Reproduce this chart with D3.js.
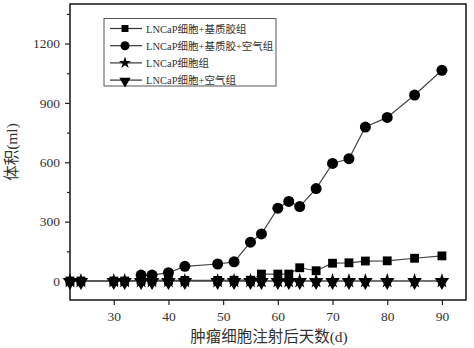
<!DOCTYPE html>
<html><head><meta charset="utf-8">
<script src="https://cdn.jsdelivr.net/npm/d3@7"></script>
<style>body{margin:0;background:#fff}</style>
</head><body>
<script>
const days = [22,24,30,32,35,37,40,43,49,52,55,57,60,62,64,67,70,73,76,80,85,90];
const seriesNames = ["LNCaP细胞+基质胶组","LNCaP细胞+基质胶+空气组","LNCaP细胞组","LNCaP细胞+空气组"];
const matrigel    = [0,0,0,0,4,4,3,3,3,4,4,35,35,35,67,52,90,92,101,102,115,127];
const matrigelAir = [null,null,null,null,30,30,42,74,86,97,196,238,368,402,376,467,594,618,778,827,940,1065];
const cellsOnly   = [0,0,0,0,0,0,0,0,0,0,0,0,0,0,0,0,0,0,0,0,0,0];
const cellsAir    = [0,0,0,0,0,0,0,0,0,0,0,0,0,0,0,0,0,0,0,0,0,0];
const yMajorTicks = [0,300,600,900,1200];
const yMinorTicks = [150,450,750,1050,1350];
const xTicks = [30,40,50,60,70,80,90];

const W=474,H=348;
const svg=d3.select("body").append("svg").attr("width",W).attr("height",H);
const L=70,R=466,T=4,B=300;
const x=d3.scaleLinear().domain([22,94.4]).range([L,R]);
const y=d3.scaleLinear().domain([-100,1400]).range([B+0.8,T]);
const serif='"Liberation Serif","Noto Sans CJK SC",serif';

// axes
const gx=svg.append("g").attr("transform",`translate(0,${B})`)
  .call(d3.axisBottom(x).tickValues(xTicks).tickSize(5).tickPadding(6).tickFormat(d3.format("d")));
const gy=svg.append("g").attr("transform",`translate(${L},0)`)
  .call(d3.axisLeft(y).tickValues(yMajorTicks).tickSize(5).tickPadding(5).tickFormat(d3.format("d")));
svg.append("g").attr("transform",`translate(${L},0)`)
  .call(d3.axisLeft(y).tickValues(yMinorTicks).tickSize(3).tickFormat(""))
  .call(g=>g.select(".domain").remove());
[gx,gy].forEach(g=>{
  g.select(".domain").remove();
  g.selectAll("text").attr("font-family",serif).attr("font-size",13.5).attr("fill","#333");
});
svg.selectAll("g line").attr("stroke","#222").attr("stroke-width",1.2);

svg.append("rect").attr("x",L).attr("y",T).attr("width",R-L).attr("height",B-T)
  .attr("fill","none").attr("stroke","#222").attr("stroke-width",1.6);

// symbols
const sym={
  square:d3.symbol().type(d3.symbolSquare).size(78),
  circle:d3.symbol().type(d3.symbolCircle).size(95),
  star:d3.symbol().type(d3.symbolStar).size(70),
  tri:d3.symbol().type(d3.symbolTriangle).size(82)
};
const series=[
  {name:seriesNames[0],vals:matrigel,s:"square",rot:0},
  {name:seriesNames[1],vals:matrigelAir,s:"circle",rot:0},
  {name:seriesNames[2],vals:cellsOnly,s:"star",rot:0},
  {name:seriesNames[3],vals:cellsAir,s:"tri",rot:180}
];
const line=d3.line().defined(d=>d.v!=null).x(d=>x(d.d)).y(d=>y(d.v));
const plot=svg.append("g");
series.forEach(se=>{
  const pts=days.map((d,i)=>({d,v:se.vals[i]})).filter(p=>p.v!=null);
  plot.append("path").datum(pts).attr("d",line).attr("fill","none").attr("stroke","#444").attr("stroke-width",1.2);
});
series.forEach(se=>{
  const pts=days.map((d,i)=>({d,v:se.vals[i]})).filter(p=>p.v!=null);
  plot.selectAll(null).data(pts).enter().append("path")
    .attr("d",sym[se.s]())
    .attr("transform",p=>`translate(${x(p.d)},${y(p.v)+(se.rot?1:0)}) rotate(${se.rot})`)
    .attr("fill","#000");
});

// legend
const lg=svg.append("g");
lg.append("rect").attr("x",104).attr("y",18.5).attr("width",172).attr("height",67.5)
  .attr("fill","#fff").attr("stroke","#555").attr("stroke-width",1);
const legSym={
  square:d3.symbol().type(d3.symbolSquare).size(48),
  circle:d3.symbol().type(d3.symbolCircle).size(64),
  star:d3.symbol().type(d3.symbolStar).size(45),
  tri:d3.symbol().type(d3.symbolTriangle).size(55)
};
series.forEach((se,i)=>{
  const cy=28.5+i*17.2;
  lg.append("line").attr("x1",110).attr("x2",142).attr("y1",cy).attr("y2",cy).attr("stroke","#333").attr("stroke-width",1.2);
  lg.append("path").attr("d",legSym[se.s]()).attr("transform",`translate(125,${cy+(se.rot?1:0)}) rotate(${se.rot})`).attr("fill","#000");
  lg.append("text").attr("x",146).attr("y",cy+4).attr("font-family",serif).attr("font-size",10.5)
    .attr("fill","#333").text(se.name);
});

// titles
svg.append("text").attr("x",269).attr("y",342).attr("text-anchor","middle")
  .attr("font-family",serif).attr("font-size",15.5).attr("fill","#333").text("肿瘤细胞注射后天数(d)");
svg.append("text").attr("transform","translate(17,152) rotate(-90)").attr("text-anchor","middle")
  .attr("font-family",serif).attr("font-size",15.5).attr("fill","#333").text("体积(ml)");
</script>
</body></html>
